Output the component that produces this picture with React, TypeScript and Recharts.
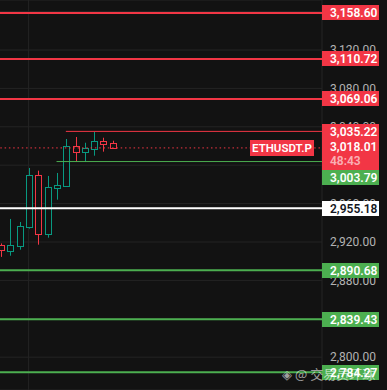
import React from 'react';
import { ComposedChart, Bar, XAxis, YAxis, CartesianGrid, ReferenceLine } from 'recharts';

// ---- data ----
const candleLabels = ['c0', 'c1', 'c2', 'c3', 'c4', 'c5', 'c6', 'c7', 'c8', 'c9', 'c10', 'c11', 'c12'];
const opens = [2917.0, 2910.9, 2916.1, 2936.0, 2989.5, 2928.6, 2976.6, 2978.6, 3020.0, 3014.1, 3017.2, 3025.5, 3023.1];
const highs = [2918.5, 2944.0, 2940.8, 2997.1, 2994.3, 2988.8, 2991.9, 3027.3, 3029.4, 3023.4, 3034.6, 3028.6, 3025.5];
const lows = [2904.5, 2905.7, 2912.0, 2933.9, 2917.2, 2924.5, 2964.1, 2977.6, 3003.3, 3003.3, 3009.9, 3014.1, 3018.01];
const closes = [2911.8, 2916.6, 2936.7, 2989.8, 2928.6, 2977.3, 2979.4, 3020.0, 3014.1, 3017.9, 3025.2, 3022.4, 3018.01];
const futureSlots = 22;

const priceTicks = [2800, 2840, 2880, 2920, 2960, 3000, 3040, 3080, 3120, 3160];
const priceMin = 2765.8;
const priceMax = 3172.1;

const resistanceLevels = [3158.6, 3110.72, 3069.06];
const resistanceRay = { price: 3035.22, fromCandle: 7 };
const lastPrice = 3018.01;
const countdown = '48:43';
const symbol = 'ETHUSDT.P';
const supportRay = { price: 3003.79, fromCandle: 6 };
const pivotLevel = 2955.18;
const supportLevels = [2890.68, 2839.43, 2784.27];
const gridTimeSlots = [3];
const watermark = '@ 交易员环球';

// ---- styles ----
const UP = '#089981';
const DOWN = '#F23645';
const GREEN = '#4CAF50';
const BG = '#121212';
const GRID = '#242424';
const FONT = 'Roboto, "Liberation Sans", Arial, sans-serif';
const TAG_W = 57;
const AXIS_W = 65;
const CHART_W = 391;
const CHART_H = 390;

const totalSlots = candleLabels.length + futureSlots;
const slotEnd = totalSlots - 0.5;

const data = Array.from({ length: totalSlots }, (_, i) =>
  i < candleLabels.length
    ? {
        label: candleLabels[i],
        i,
        open: opens[i],
        high: highs[i],
        low: lows[i],
        close: closes[i],
        range: [lows[i], highs[i]],
      }
    : { label: `f${i}`, i }
);

const fmt = (v: number) =>
  v.toLocaleString('en-US', { minimumFractionDigits: 2, maximumFractionDigits: 2 });

function Candle(props: any) {
  const { x, y, width, height, payload } = props;
  if (!payload || payload.open == null || !isFinite(y) || !isFinite(height)) return <g />;
  const top = Math.min(y, y + height);
  const bot = Math.max(y, y + height);
  const span = payload.high - payload.low;
  const ppu = span > 0 ? (bot - top) / span : 0;
  const py = (v: number) => top + (payload.high - v) * ppu;
  const up = payload.close >= payload.open;
  const color = up ? UP : DOWN;
  const cx = Math.round(x + width / 2) + 0.5;
  const bTop = Math.round(py(Math.max(payload.open, payload.close))) + 0.5;
  const bBot = Math.max(bTop + 1, Math.round(py(Math.min(payload.open, payload.close))) + 0.5);
  return (
    <g>
      <line x1={cx} x2={cx} y1={top} y2={bTop} stroke={color} strokeWidth={1} />
      <line x1={cx} x2={cx} y1={bBot} y2={bot} stroke={color} strokeWidth={1} />
      <rect x={cx - 3} y={bTop} width={6} height={bBot - bTop} fill={BG} stroke={color} strokeWidth={1} />
    </g>
  );
}

function PriceTag(props: any) {
  const { viewBox, text, bg, fg, shift = 0 } = props;
  if (!viewBox) return null;
  const right = viewBox.x + viewBox.width;
  const cy = viewBox.y + shift;
  const top = Math.round(cy - 7.5);
  return (
    <g>
      <rect x={right} y={top} width={TAG_W} height={15} fill={bg} />
      <text x={right + 8} y={top + 7.5} dy="0.36em" fill={fg} fontSize={12} fontWeight={600} fontFamily={FONT}>
        {text}
      </text>
    </g>
  );
}

function LastPriceTag(props: any) {
  const { viewBox } = props;
  if (!viewBox) return null;
  const right = viewBox.x + viewBox.width;
  const cy = viewBox.y;
  const top = Math.round(cy - 9);
  return (
    <g>
      <rect x={right - 72} y={Math.round(cy - 8)} width={64} height={16} fill={DOWN} />
      <text x={right - 40} y={Math.round(cy - 8) + 8} dy="0.36em" textAnchor="middle" fill="#fff" fontSize={11.5} fontWeight={600} fontFamily={FONT}>
        {symbol}
      </text>
      <rect x={right} y={top} width={TAG_W} height={31} fill={DOWN} />
      <text x={right + 8} y={top + 8} dy="0.36em" fill="#fff" fontSize={12} fontWeight={600} fontFamily={FONT}>
        {fmt(lastPrice)}
      </text>
      <text x={right + 8} y={top + 21.5} dy="0.36em" fill="rgba(255,255,255,0.62)" fontSize={12} fontWeight={600} fontFamily={FONT}>
        {countdown}
      </text>
    </g>
  );
}

const timeAxis = (
  <XAxis xAxisId="t" dataKey="i" type="number" domain={[-0.5, slotEnd]} allowDataOverflow ticks={gridTimeSlots} hide />
);

export default function App() {
  return (
    <div style={{ position: 'fixed', left: 0, top: 0, width: 387, height: 390, overflow: 'hidden', background: BG }}>
      {/* base layer: grid, price axis, candles */}
      <div style={{ position: 'absolute', left: -4, top: 0 }}>
        <ComposedChart width={CHART_W} height={CHART_H} data={data} margin={{ top: 0, right: 0, bottom: 0, left: 0 }}>
          <XAxis xAxisId="c" dataKey="label" type="category" hide />
          {timeAxis}
          <YAxis
            yAxisId="p"
            orientation="right"
            width={AXIS_W}
            domain={[priceMin, priceMax]}
            allowDataOverflow
            ticks={priceTicks}
            interval={0}
            tickLine={false}
            axisLine={false}
            tickFormatter={fmt}
            tick={{ fill: '#b2b2b2', fontSize: 12, fontFamily: FONT }}
          />
          <CartesianGrid xAxisId="t" yAxisId="p" stroke={GRID} strokeWidth={1} />
          <Bar xAxisId="c" yAxisId="p" dataKey="range" barSize={6} isAnimationActive={false} shape={(p: any) => <Candle {...p} />} />
        </ComposedChart>
      </div>
      {/* overlay layer: price levels and their tags, drawn above the axis labels */}
      <div style={{ position: 'absolute', left: -4, top: 0 }}>
        <ComposedChart width={CHART_W} height={CHART_H} data={data} margin={{ top: 0, right: AXIS_W, bottom: 0, left: 0 }} style={{ overflow: 'visible' }}>
          {timeAxis}
          <YAxis yAxisId="p" hide domain={[priceMin, priceMax]} allowDataOverflow />
          {resistanceLevels.map((v) => (
            <ReferenceLine key={`r${v}`} xAxisId="t" yAxisId="p" y={v} stroke={DOWN} strokeWidth={2} ifOverflow="visible"
              label={<PriceTag text={fmt(v)} bg={DOWN} fg="#fff" />} />
          ))}
          <ReferenceLine xAxisId="t" yAxisId="p" ifOverflow="visible" stroke={DOWN} strokeWidth={1}
            segment={[{ x: resistanceRay.fromCandle, y: resistanceRay.price }, { x: slotEnd, y: resistanceRay.price }]}
            label={<PriceTag text={fmt(resistanceRay.price)} bg={DOWN} fg="#fff" />} />
          <ReferenceLine xAxisId="t" yAxisId="p" ifOverflow="visible" stroke={GREEN} strokeWidth={1}
            segment={[{ x: supportRay.fromCandle, y: supportRay.price }, { x: slotEnd, y: supportRay.price }]}
            label={<PriceTag text={fmt(supportRay.price)} bg={GREEN} fg="#fff" shift={15.5} />} />
          <ReferenceLine xAxisId="t" yAxisId="p" y={lastPrice} stroke={DOWN} strokeWidth={1} strokeDasharray="1.5 2.8" ifOverflow="visible"
            label={<LastPriceTag />} />
          <ReferenceLine xAxisId="t" yAxisId="p" y={pivotLevel} stroke="#ffffff" strokeWidth={2} ifOverflow="visible"
            label={<PriceTag text={fmt(pivotLevel)} bg="#ffffff" fg="#131722" />} />
          {supportLevels.map((v) => (
            <ReferenceLine key={`s${v}`} xAxisId="t" yAxisId="p" y={v} stroke={GREEN} strokeWidth={2} ifOverflow="visible"
              label={<PriceTag text={fmt(v)} bg={GREEN} fg="#fff" />} />
          ))}
        </ComposedChart>
      </div>
      <div style={{ position: 'absolute', left: 282, top: 364, color: 'rgba(255,255,255,0.6)', fontSize: 13, fontFamily: '"Noto Sans CJK SC", sans-serif', whiteSpace: 'nowrap', pointerEvents: 'none' }}>
        ◈ {watermark}
      </div>
    </div>
  );
}
